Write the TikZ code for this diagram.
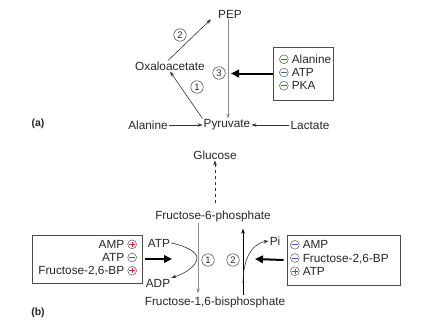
\documentclass[tikz,border=0pt]{standalone}
\usepackage{fontspec}
\setmainfont{Liberation Sans}
\usetikzlibrary{arrows.meta}
\definecolor{minusblue}{RGB}{50,100,190}
\definecolor{plusred}{RGB}{215,40,50}
\newcommand\sgnminus{\tikz[baseline=-4.1pt]{\draw[black!65,line width=0.5pt] (0,0) circle (4.4pt); \draw[minusblue,line width=1pt] (-2.7pt,0)--(2.7pt,0);}}
\newcommand\sgnplus{\tikz[baseline=-4.1pt]{\draw[black!65,line width=0.5pt] (0,0) circle (4.4pt); \draw[plusred,line width=0.7pt] (-2.7pt,0)--(2.7pt,0) (0,-2.7pt)--(0,2.7pt);}}
\begin{document}
\begin{tikzpicture}[x=1pt,y=-1pt,
  font=\fontsize{11.8}{13.2}\selectfont,
  every node/.style={inner sep=1pt, text=black!85},
  num/.style={circle, draw=black!75, line width=0.5pt, inner sep=0pt, minimum size=12.5pt, font=\fontsize{9.5}{9.5}\selectfont},
  conn/.style={draw=black!80, line width=0.6pt, -{Stealth[length=5pt,width=3.6pt]}},
  grayconn/.style={conn, draw=black!45},
  bigarrow/.style={draw=black, line width=2pt, -{Triangle[length=8pt,width=7.5pt]}},
  regbox/.style={draw=black!70, line width=0.6pt, inner sep=0pt},
  panel/.style={font=\fontsize{10.5}{12}\selectfont\bfseries}]
\useasboundingbox (0,0) rectangle (425,332);

% ---------- (a) ----------
\node (pep) at (230,14) {PEP};
\node (oxa) at (170,66) {Oxaloacetate};
\node (pyr) at (227,125) {Pyruvate};
\node (ala) at (148,125) {Alanine};
\node (lac) at (310,125) {Lactate};
\node[num] (n2) at (180,35) {2};
\node[num] (n1) at (197,87) {1};
\node[num] (n3) at (219,73) {3};
\node[regbox, minimum width=60pt, minimum height=53pt] (boxa) at (303,73.5) {};
\node[anchor=west, align=left] (boxatext) at (278,72.5) {\sgnminus\ Alanine\\\sgnminus\ ATP\\\sgnminus\ PKA};
\node[panel] (pa) at (38,124) {(a)};

\draw[conn] (oxa.north) ++(-2,0) coordinate (oxs) (oxs) -- ([xshift=-6pt]pep.south west);
\draw[conn] (pyr.north west) -- (oxa.south);
\coordinate (pepx) at (228,0);
\draw[grayconn] (pepx |- pep.south) -- (pepx |- pyr.north);
\draw[conn] (ala) -- (pyr);
\draw[conn] (lac) -- (pyr);
\draw[bigarrow] (boxa.west) -- ([xshift=3pt]boxa.west -| pepx);

% ---------- (b) ----------
\node (glc) at (215,155) {Glucose};
\node (f6p) at (213,216) {Fructose-6-phosphate};
\node (f16) at (215,302) {Fructose-1,6-bisphosphate};
\coordinate (dx) at (215,0);
\draw[conn, dashed] ([yshift=6pt]dx |- f6p.north) -- (dx |- glc.south);

\coordinate (lx) at (198,0);
\coordinate (rx) at (243,0);
\draw[grayconn] (lx |- f6p.south) -- ([yshift=2pt]lx |- f16.north);
\draw[conn, draw=black] (rx |- f16.north) -- ([yshift=-6pt]rx |- f6p.south);

\node[num] (b1) at (208,260) {1};
\node[num] (b2) at (233,260) {2};
\node (atp) at (159,243) {ATP};
\node (adp) at (158,283) {ADP};
\node (pi) at (275,241) {Pi};

\draw[conn] (atp.east) .. controls (186,246) and (197,252) .. (197,258)
  .. controls (197,266) and (184,274) .. (adp.north east);
\draw[conn] (243,283) coordinate (pis) (pis) .. controls (243,262) and (250,244) .. (pi.west);

\node[regbox, minimum width=110pt, minimum height=48pt] (boxl) at (87,259) {};
\node[anchor=east, align=right] (boxltext) at (138,258) {AMP \sgnplus\\ATP \sgnminus\\Fructose-2,6-BP \sgnplus};
\node[regbox, minimum width=113pt, minimum height=50pt] (boxr) at (343.5,260) {};
\node[anchor=west, align=left] (boxrtext) at (289,258) {\sgnminus\ AMP\\\sgnminus\ Fructose-2,6-BP\\\sgnplus\ ATP};
\draw[bigarrow] (boxl.east) ++(3,0) coordinate (bls) (bls) -- (172,259);
\draw[bigarrow] (boxr.west) ++(-3,0) coordinate (brs) (brs) -- (255,259);
\node[panel] (pb) at (38,313) {(b)};
\end{tikzpicture}
\end{document}
